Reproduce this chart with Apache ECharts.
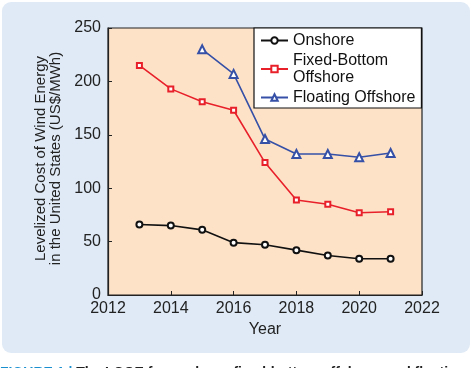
<!DOCTYPE html>
<html>
<head>
<meta charset="utf-8">
<script src="https://cdn.jsdelivr.net/npm/echarts@6/dist/echarts.min.js"></script>
<style>
html,body{margin:0;padding:0;background:#fff;}
#c{width:474px;height:368px;}
</style>
</head>
<body>
<div id="c"></div>
<script>
var years = [2013, 2014, 2015, 2016, 2017, 2018, 2019, 2020, 2021];
var onshore = [66, 65, 61, 49, 47, 42, 37, 34, 34];
var fixedBottom = [215, 193, 181, 173, 124, 89, 85, 77, 78];
var floating = [null, null, 230, 207, 146, 132, 132, 129, 133];
var seriesNames = ['Onshore', 'Fixed-Bottom\nOffshore', 'Floating Offshore'];
var xTicks = [2012, 2014, 2016, 2018, 2020, 2022];
var yTicks = [0, 50, 100, 150, 200, 250];

function pairs(vals){
  var out = [];
  for (var i = 0; i < years.length; i++) { if (vals[i] !== null) out.push([years[i], vals[i]]); }
  return out;
}
var font = 'Liberation Sans, Arial, Helvetica, sans-serif';
var chart = echarts.init(document.getElementById('c'), null, {renderer: 'canvas'});
chart.setOption({
  animation: false,
  backgroundColor: '#ffffff',
  graphic: [
    {type: 'rect', z: -10, shape: {x: 2, y: 2, width: 468, height: 351, r: 9}, style: {fill: '#dfeaf6'}},
    {type: 'text', left: 0, top: 366, z: 10, style: {
      rich: {b: {fill: '#1a8fd0', fontWeight: 'bold', fontSize: 14, fontFamily: font}, t: {fill: '#222', fontWeight: 'bold', fontSize: 14, fontFamily: font}},
      text: '{b|FIGURE 1 | }{t|The LCOE for onshore, fixed-bottom offshore, and floating}'
    }}
  ],
  grid: {left: 108, right: 52, top: 28, bottom: 73, show: true, backgroundColor: '#fde2c8', borderColor: '#222', borderWidth: 1.2},
  legend: {
    orient: 'vertical', left: 254, top: 28,
    backgroundColor: '#ffffff', borderColor: '#111', borderWidth: 1.2,
    padding: [4, 6, 2, 6], itemWidth: 27, itemHeight: 8, itemGap: 3,
    textStyle: {fontSize: 16, lineHeight: 17, fontFamily: font, color: '#111'},
    data: seriesNames
  },
  xAxis: {
    type: 'value', min: 2012, max: 2022, interval: 2,
    name: 'Year', nameLocation: 'middle', nameGap: 27,
    nameTextStyle: {fontSize: 16, fontFamily: font, color: '#222'},
    axisLine: {show: true, lineStyle: {color: '#222', width: 1.2}},
    axisTick: {show: true, inside: true, length: 4, lineStyle: {color: '#222'}},
    axisLabel: {fontSize: 16, fontFamily: font, color: '#222', margin: 6,
      formatter: function(v){ return xTicks.indexOf(v) >= 0 ? String(v) : ''; }},
    splitLine: {show: false}
  },
  yAxis: {
    type: 'value', min: 0, max: 250, interval: 50,
    name: 'Levelized Cost of Wind Energy\nin the United States (US$/MWh)',
    nameLocation: 'middle', nameGap: 41, nameRotate: 90,
    nameTextStyle: {fontSize: 15, lineHeight: 15, fontFamily: font, color: '#222', padding: [0, 0, 0, 6]},
    axisLine: {show: true, lineStyle: {color: '#222', width: 1.2}},
    axisTick: {show: true, inside: true, length: 4, lineStyle: {color: '#222'}},
    axisLabel: {fontSize: 16, fontFamily: font, color: '#222', margin: 7,
      formatter: function(v){ return yTicks.indexOf(v) >= 0 ? String(v) : ''; }},
    splitLine: {show: false}
  },
  series: [
    {name: seriesNames[0], type: 'line', data: pairs(onshore), symbol: 'emptyCircle', symbolSize: 6,
      lineStyle: {color: '#111', width: 1.6}, itemStyle: {color: '#111', borderWidth: 1.3}},
    {name: seriesNames[1], type: 'line', data: pairs(fixedBottom), symbol: 'emptyRect', symbolSize: 5,
      lineStyle: {color: '#e8202a', width: 1.6}, itemStyle: {color: '#e8202a', borderWidth: 1.3}},
    {name: seriesNames[2], type: 'line', data: pairs(floating), symbol: 'emptyTriangle', symbolSize: 8,
      lineStyle: {color: '#3550a6', width: 1.6}, itemStyle: {color: '#3550a6', borderWidth: 1.2}}
  ]
});
</script>
</body>
</html>
